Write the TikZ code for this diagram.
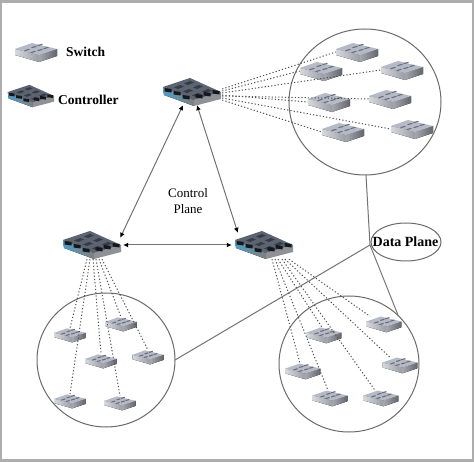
\documentclass[tikz,border=0pt]{standalone}
\usepackage{fontspec}
\setmainfont{Liberation Serif}
\usetikzlibrary{arrows.meta,shapes.geometric}
\definecolor{swtop}{HTML}{B6BAC6}
\definecolor{swla}{HTML}{D6D8DE}
\definecolor{swlb}{HTML}{9A9DA4}
\definecolor{swra}{HTML}{A4A7AE}
\definecolor{swrb}{HTML}{62656C}
\definecolor{swslot}{HTML}{6A6E7A}
\definecolor{cttop}{HTML}{5C6472}
\definecolor{ctslot}{HTML}{363B44}
\definecolor{ctblue}{HTML}{4F9CC4}
\definecolor{ctside}{HTML}{8E9196}
\definecolor{ctwin}{HTML}{15171B}
\tikzset{
  x=1pt,y=-1pt,
  lbl/.style={font=\bfseries\fontsize{13.5}{15}\selectfont,text=black,inner sep=0pt},
  plane/.style={draw=black!55,line width=1pt},
  zone/.style={draw=black!58,line width=1pt,fill=none},
  link/.style={draw=black!55,line width=1pt,{Latex[length=5pt,width=5pt,black]}-{Latex[length=5pt,width=5pt,black]}},
  fan/.style={draw=black!68,line width=1pt,dash pattern=on 1.2pt off 2.1pt},
  swbox/.style={inner sep=0pt,minimum width=#1*42pt,minimum height=#1*18pt},
  ctbox/.style={inner sep=0pt,minimum width=#1*60pt,minimum height=#1*28pt},
  pics/swicon/.style={code={
    \fill[left color=swla,right color=swlb] (-21,-3) -- (-21,3) -- (3,10) -- (3,3) -- cycle;
    \fill[left color=swra,right color=swrb] (3,3) -- (3,10) -- (21,4) -- (21,-3) -- cycle;
    \fill[swtop] (-21,-3) -- (-4,-9) -- (21,-3) -- (3,3) -- cycle;
    \foreach \a/\b in {-9/-2,-2/-5,4/-7,-3/0,4/-2,10/-4}
      \draw[swslot,line width=1.1pt] (\a-2.5,\b+0.7) -- (\a+2.5,\b-0.7);
  }},
  pics/cticon/.style={code={
    \fill[left color=ctblue,right color=black!50] (-29,-5) -- (-28,3) -- (2,14) -- (2,8) -- cycle;
    \fill[ctside] (2,8) -- (2,14) -- (29,7) -- (29,0) -- cycle;
    \fill[cttop] (-29,-5) -- (-2,-14) -- (29,0) -- (2,8) -- cycle;
    \foreach \a/\b in {-13/-5,-3/-9,-4/-1,6/-5,5/3,15/-1}
      \fill[ctslot] (\a-5,\b+0.5) -- (\a+1,\b-2) -- (\a+5,\b-0.5) -- (\a-1,\b+2) -- cycle;
    \foreach \a/\b in {-24/-2,-15/1,-6/5,7/4,15/2,24/0}
      \fill[ctwin] (\a-3.5,\b-2) -- (\a+3.5,\b-1) -- (\a+3.5,\b+2.5) -- (\a-3.5,\b+1.5) -- cycle;
  }}
}
\newcommand{\swt}[4]{\node[swbox=#4] (#1) at (#2,#3) {};\pic[scale=#4] at (#1) {swicon};}
\newcommand{\ctl}[4]{\node[ctbox=#4] (#1) at (#2,#3) {};\pic[scale=#4] at (#1) {cticon};}
\begin{document}
\begin{tikzpicture}
\useasboundingbox (0,0) rectangle (474,462);
\fill[black!32] (0,0) rectangle (474,462);
\fill[white] (2,3) rectangle (472,459);

\node[swbox=1] (t1) at (357,52) {};
\node[swbox=1] (t2) at (321,71) {};
\node[swbox=1] (t3) at (402,70) {};
\node[swbox=1] (t4) at (329,102) {};
\node[swbox=1] (t5) at (390,99) {};
\node[swbox=1] (t6) at (343,132) {};
\node[swbox=1] (t7) at (412,129) {};
\node[swbox=.74] (l1) at (70,335) {};
\node[swbox=.74] (l2) at (121,324) {};
\node[swbox=.74] (l3) at (101,361) {};
\node[swbox=.74] (l4) at (148,357) {};
\node[swbox=.74] (l5) at (70,401) {};
\node[swbox=.74] (l6) at (120,403) {};
\node[swbox=.83] (r1) at (384,324) {};
\node[swbox=.83] (r2) at (324,335) {};
\node[swbox=.83] (r3) at (400,365) {};
\node[swbox=.83] (r4) at (303,371) {};
\node[swbox=.83] (r5) at (330,398) {};
\node[swbox=.83] (r6) at (381,398) {};
\node[ctbox=1] (ct) at (192,92) {};
\node[ctbox=1] (cl) at (92,245) {};
\node[ctbox=1] (cr) at (264,245) {};

\draw[zone] (365,102) ellipse [x radius=76,y radius=73];
\draw[zone] (106,360) ellipse [x radius=69,y radius=67];
\draw[zone] (349,364) ellipse [x radius=70,y radius=68];
\draw[zone] (406,242) ellipse [x radius=35,y radius=19];
\node[lbl,font=\bfseries\fontsize{14}{15}\selectfont] (dp) at (405.5,242) {Data Plane};
\coordinate (dpa) at (370,245);
\coordinate (topz) at (366,175);
\coordinate (rz) at (398,315);
\coordinate (lz) at (175,360);
\draw[plane] (topz) -- (dpa) -- (rz);
\draw[plane] (dpa) -- (lz);

\foreach \d in {t1,t2,t3,t4,t5,t6,t7} \pic at (\d) {swicon};
\foreach \d in {l1,l2,l3,l4,l5,l6} \pic[scale=.74] at (\d) {swicon};
\foreach \d in {r1,r2,r3,r4,r5,r6} \pic[scale=.83] at (\d) {swicon};

\foreach \d/\y in {t1/-2,t2/0,t3/2,t4/4,t5/5,t6/9,t7/7}
  \draw[fan] ([yshift=1pt-\y pt]ct.east) -- (\d.west);
\foreach \d/\x in {l1/-5,l5/-2,l3/1,l6/4,l2/7,l4/10}
  \draw[fan] ([xshift=\x pt]cl.south) -- (\d.north);
\foreach \d/\x/\e in {r4/-4/-3,r5/-1/-2,r2/2/-2,r6/6/-6,r3/9/-10,r1/13/-14}
  \draw[fan] ([xshift=\x pt+12pt]cr.south) -- ([xshift=\e pt]\d.north);

\draw[link] ([xshift=-9pt,yshift=1pt]ct.south) -- ([xshift=-2pt,yshift=-7pt]cl.north east);
\draw[link] ([xshift=5pt,yshift=1pt]ct.south) -- ([xshift=4pt,yshift=-2pt]cr.north west);
\draw[link] ([xshift=1pt]cl.east) -- ([xshift=-2pt]cr.west);

\foreach \d in {ct,cl,cr} \pic at (\d) {cticon};

\swt{ls}{36}{52}{1}
\ctl{lc}{31}{96}{.8}
\node[lbl,anchor=west] (ts) at (66,52) {Switch};
\node[lbl,anchor=west] (tc) at (58,100) {Controller};
\node[align=center,inner sep=0pt,font=\fontsize{13}{16}\selectfont] (cp) at (188,201) {Control\\Plane};
\end{tikzpicture}
\end{document}
